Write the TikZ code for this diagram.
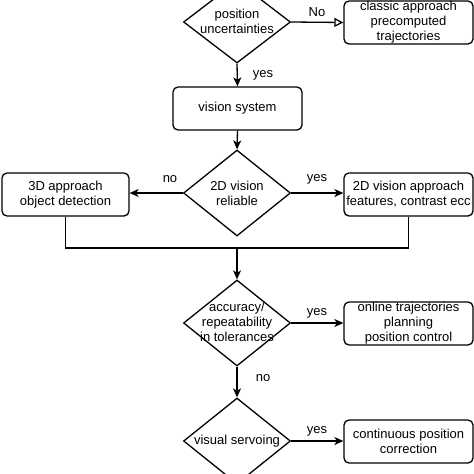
\documentclass[tikz,border=0pt]{standalone}
\usepackage{fontspec}
\setmainfont{Liberation Sans}
\usetikzlibrary{shapes.geometric,arrows.meta}
\begin{document}
\begin{tikzpicture}[x=1pt,y=-1pt,
  every node/.style={font=\fontsize{13}{15}\selectfont},
  box/.style={draw,line width=1.3pt,rounded corners=5pt,minimum width=129pt,minimum height=43pt,inner sep=0pt,align=center},
  dia/.style={draw,diamond,line width=1.3pt,minimum width=107pt,minimum height=86pt,inner sep=0pt},
  txt/.style={align=center,inner sep=0pt},
  lbl/.style={inner sep=0pt},
  arr/.style={line width=1.3pt,-{Stealth[length=9pt,width=8pt,inset=2.5pt]}},
  oarr/.style={line width=1.3pt,-{Triangle[open,length=9pt,width=9pt,fill=white]}},
  ln/.style={line width=1.3pt}]
\useasboundingbox (0,0) rectangle (474,474);
% diamonds
\node[dia,minimum height=82pt] (d1) at (237,22) {};
\node[txt] (t1) at (237,21) {position\\uncertainties};
\node[dia] (d2) at (237,193) {};
\node[txt] (t2) at (237,193) {2D vision\\reliable};
\node[dia] (d3) at (237,323) {};
\node[txt] (t3) at (237,322) {accuracy/\\repeatability\\in tolerances};
\node[dia] (d4) at (237,441) {};
\node[txt] (t4) at (237,441) {visual servoing};
% boxes
\node[box] (classic) at (408.5,22.5) {classic approach\\precomputed\\trajectories};
\node[box] (vision) at (237.5,108.5) {vision system};
\node[box,minimum width=127pt] (b3d) at (65.5,194.5) {3D approach\\object detection};
\node[box] (b2d) at (408.5,194.5) {2D vision approach\\features, contrast ecc};
\node[box] (online) at (408.5,323.5) {online trajectories\\planning\\position control};
\node[box] (cont) at (408.5,441.5) {continuous position\\correction};
% connectors
\draw[oarr] (d1.east) -- (classic.west);
\draw[arr] (d1.south) -- (vision.north);
\draw[arr] (vision.south) -- (d2.north);
\draw[arr] (d2.west) -- (b3d.east |- d2.west);
\draw[arr] (d2.east) -- (b2d.west |- d2.east);
\coordinate (j) at (237,248);
\draw[ln] (b3d.south) |- (j) -| (b2d.south);
\draw[arr] (j) -- (d3.north);
\draw[arr] (d3.east) -- (online.west |- d3.east);
\draw[arr] (d3.south) -- (d4.north);
\draw[arr] (d4.east) -- (cont.west |- d4.east);
% labels
\node[lbl] (l1) at (317,12) {No};
\node[lbl] (l2) at (263,75) {yes};
\node[lbl] (l3) at (170,179) {no};
\node[lbl] (l4) at (317,179) {yes};
\node[lbl] (l5) at (317,313) {yes};
\node[lbl] (l6) at (263,378) {no};
\node[lbl] (l7) at (317,431) {yes};
\end{tikzpicture}
\end{document}
